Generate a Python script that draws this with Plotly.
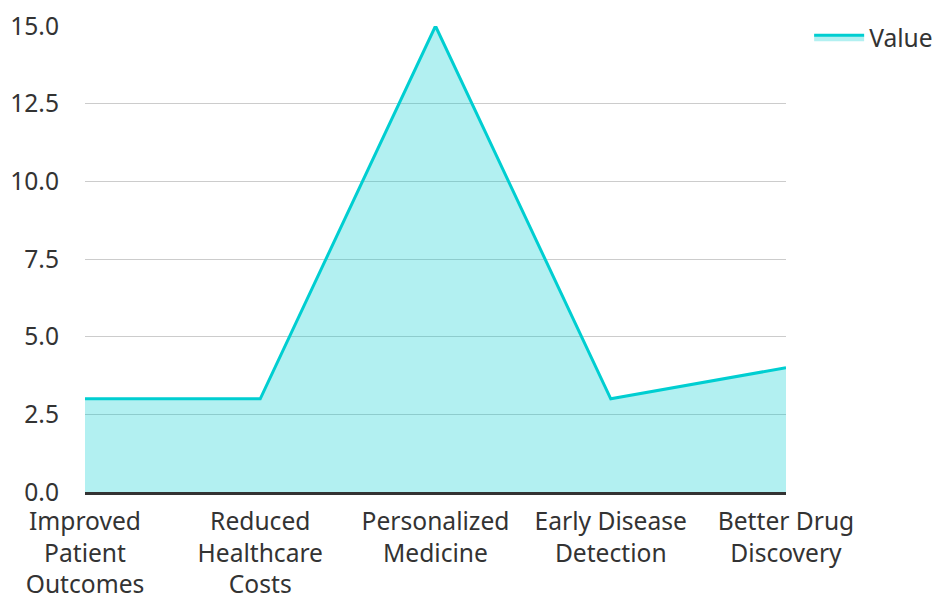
import plotly.graph_objects as go

categories = ["Improved<br>Patient<br>Outcomes", "Reduced<br>Healthcare<br>Costs",
              "Personalized<br>Medicine", "Early Disease<br>Detection", "Better Drug<br>Discovery"]
values = [3, 3, 15, 3, 4]
series_name = "Value"
y_ticks = [0, 2.5, 5, 7.5, 10, 12.5, 15]

fig = go.Figure()
fig.add_trace(go.Scatter(
    x=categories, y=values, name=series_name, mode="lines",
    line=dict(color="#00CED1", width=3),
    fill="tozeroy", fillcolor="rgba(0,206,209,0.3)",
))

fs = 24.6
fig.update_layout(
    width=935, height=594,
    margin=dict(l=85, r=149, t=26, b=102, autoexpand=False),
    paper_bgcolor="white", plot_bgcolor="white",
    font=dict(family="Noto Sans", size=fs, color="#333333"),
    showlegend=True,
    legend=dict(x=1.033, y=1.024, xanchor="left", yanchor="top", font=dict(size=fs),
                itemwidth=50),
    xaxis=dict(range=[0, 4], showgrid=False, showline=True, linecolor="#333333", linewidth=3,
               tickfont=dict(size=fs), ticks="", zeroline=False, automargin=False,
               ticklabelstandoff=5),
    yaxis=dict(range=[0, 15], tickvals=y_ticks, tickformat=".1f", showgrid=True,
               gridcolor="#cccccc", gridwidth=1, zeroline=False, ticks="", tickfont=dict(size=fs),
               showline=False, automargin=False, ticklabelstandoff=25),
)

fig.write_html("out.html", config={"displayModeBar": False},
               post_script="document.body.style.margin='0';document.body.style.overflow='hidden';")
